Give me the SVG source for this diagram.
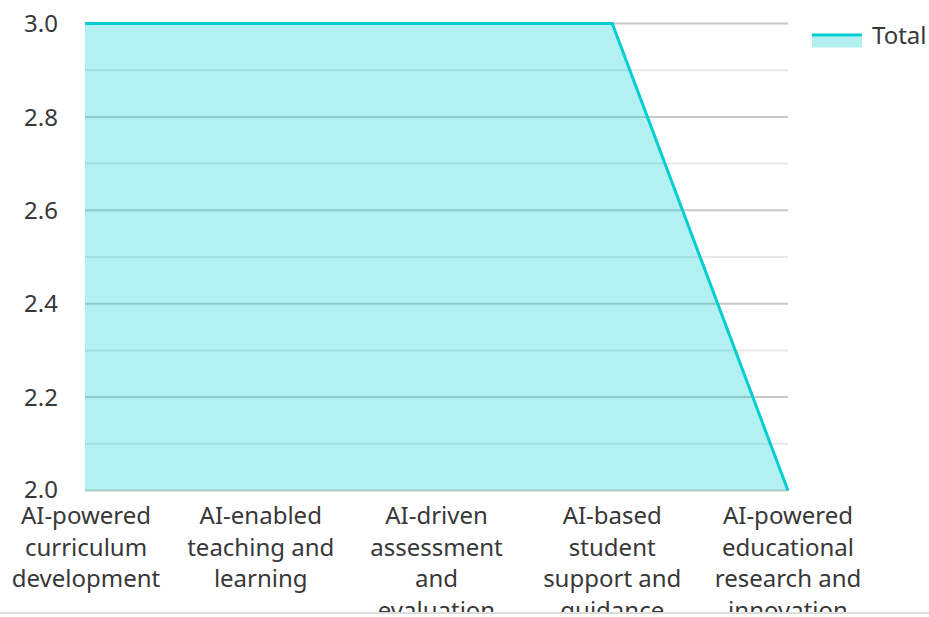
<svg xmlns="http://www.w3.org/2000/svg" width="929" height="617" viewBox="0 0 929 617">
<defs>
<style>
text{font-family:"Noto Sans","Open Sans","DejaVu Sans",sans-serif;font-size:24px;font-weight:400;fill:#383838}
.ylab{text-anchor:end}
.xlab{text-anchor:middle}
.major{stroke:#c8c8c8;stroke-width:2}
.minor{stroke:#e8e8e8;stroke-width:2}
</style>
<clipPath id="clip"><rect x="0" y="0" width="929" height="612"/></clipPath>
</defs>
<rect width="929" height="617" fill="#ffffff"/>
<g id="grid">
<line class="minor" x1="85" y1="70.2" x2="788" y2="70.2"/>
<line class="minor" x1="85" y1="163.6" x2="788" y2="163.6"/>
<line class="minor" x1="85" y1="257" x2="788" y2="257"/>
<line class="minor" x1="85" y1="350.4" x2="788" y2="350.4"/>
<line class="minor" x1="85" y1="443.8" x2="788" y2="443.8"/>
<line class="major" x1="85" y1="23.5" x2="788" y2="23.5"/>
<line class="major" x1="85" y1="116.9" x2="788" y2="116.9"/>
<line class="major" x1="85" y1="210.3" x2="788" y2="210.3"/>
<line class="major" x1="85" y1="303.7" x2="788" y2="303.7"/>
<line class="major" x1="85" y1="397.1" x2="788" y2="397.1"/>
<line class="major" x1="85" y1="490.5" x2="788" y2="490.5"/>
</g>
<g id="yaxis">
<text class="ylab" x="58" y="32">3.0</text>
<text class="ylab" x="58" y="126">2.8</text>
<text class="ylab" x="58" y="219">2.6</text>
<text class="ylab" x="58" y="312">2.4</text>
<text class="ylab" x="58" y="406">2.2</text>
<text class="ylab" x="58" y="498">2.0</text>
</g>
<g id="series">
<polygon points="85,23.5 260.75,23.5 436.5,23.5 612.25,23.5 788,490.5 85,490.5" fill="#00ced1" fill-opacity="0.3"/>
<polyline points="85,23.5 260.75,23.5 436.5,23.5 612.25,23.5 788,490.5" fill="none" stroke="#00ced1" stroke-width="3"/>
</g>
<g id="xaxis" clip-path="url(#clip)">
<text class="xlab" x="86" y="524">AI-powered<tspan x="86" dy="31.5">curriculum</tspan><tspan x="86" dy="31.5">development</tspan></text>
<text class="xlab" x="260.75" y="524">AI-enabled<tspan x="260.75" dy="31.5">teaching and</tspan><tspan x="260.75" dy="31.5">learning</tspan></text>
<text class="xlab" x="436.5" y="524">AI-driven<tspan x="436.5" dy="31.5">assessment</tspan><tspan x="436.5" dy="31.5">and</tspan><tspan x="436.5" dy="31.5">evaluation</tspan></text>
<text class="xlab" x="612.25" y="524">AI-based<tspan x="612.25" dy="31.5">student</tspan><tspan x="612.25" dy="31.5">support and</tspan><tspan x="612.25" dy="31.5">guidance</tspan></text>
<text class="xlab" x="788" y="524">AI-powered<tspan x="788" dy="31.5">educational</tspan><tspan x="788" dy="31.5">research and</tspan><tspan x="788" dy="31.5">innovation</tspan></text>
</g>
<line x1="0" y1="613" x2="929" y2="613" stroke="#dddddd" stroke-width="2"/>
<g id="legend">
<rect x="812" y="36.5" width="50" height="11" fill="#00ced1" fill-opacity="0.3"/>
<line x1="812" y1="35" x2="862" y2="35" stroke="#00ced1" stroke-width="3"/>
<text x="872" y="44">Total</text>
</g>
</svg>
